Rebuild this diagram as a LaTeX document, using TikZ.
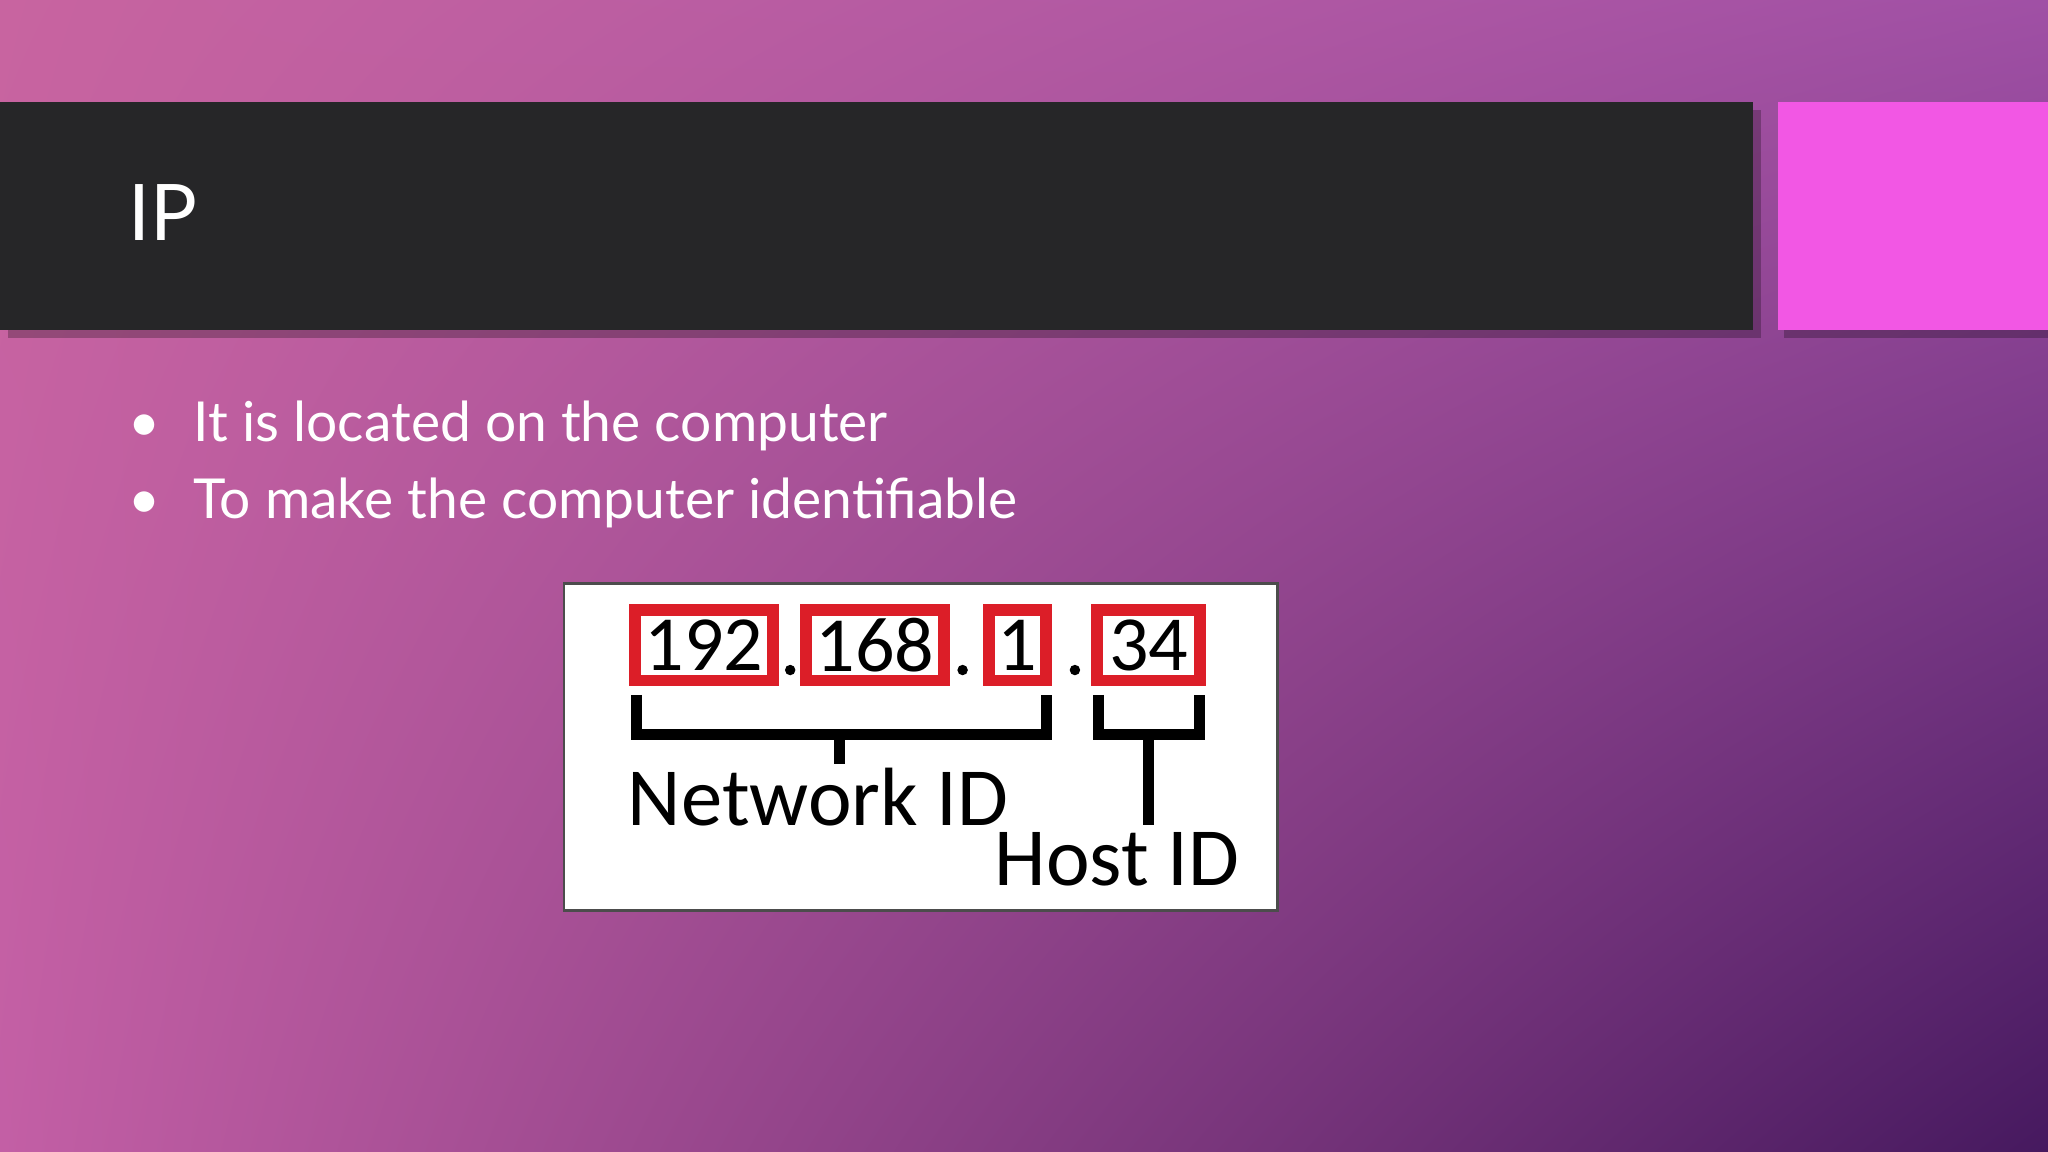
\documentclass[tikz,border=0pt]{standalone}
\usepackage{fontspec}
\usetikzlibrary{shadings}
\setmainfont{Lato}
\newfontfamily\figfont{Carlito}
\definecolor{bgTL}{RGB}{200,100,160}
\definecolor{bgTR}{RGB}{160,80,165}
\definecolor{bgBL}{RGB}{195,95,165}
\definecolor{bgBR}{RGB}{70,25,95}
\definecolor{barc}{RGB}{38,38,40}
\definecolor{pinkc}{RGB}{242,87,228}
\definecolor{redc}{RGB}{220,30,40}
\tikzset{
 numbox/.style={draw=redc,line width=2.6pt,minimum height=0.54cm,inner sep=0pt,font=\figfont\fontsize{17}{17}\selectfont,text=black},
 brk/.style={line width=2.4pt,black},
}
\begin{document}
\begin{tikzpicture}[x=0.01cm,y=-0.01cm]
\useasboundingbox (0,0) rectangle (1568,882);
\shade[upper left=bgTL,upper right=bgTR,lower left=bgBL,lower right=bgBR] (0,0) rectangle (1568,882);
\fill[black,opacity=0.25] (6,84) rectangle (1348,259);
\fill[barc] (0,78) rectangle (1342,253);
\fill[black,opacity=0.25] (1366,84) rectangle (1568,259);
\fill[pinkc] (1361,78) rectangle (1568,253);
\node[anchor=west,text=white,font=\fontsize{17}{17}\selectfont,inner sep=0] (title) at (98,163) {IP};
\node[anchor=west,text=white,font=\fontsize{12}{12}\selectfont,inner sep=0] (b1) at (98,326) {\textbullet\hspace{0.6em}It is located on the computer};
\node[anchor=west,text=white,font=\fontsize{12}{12}\selectfont,inner sep=0] (b2) at (98,385) {\textbullet\hspace{0.6em}To make the computer identifiable};
\node[draw=black!70,line width=0.6pt,fill=white,minimum width=5.46cm,minimum height=2.5cm,inner sep=0] (img) at (705,572) {};
\node[numbox,minimum width=1.06cm] (n1) at (539,494) {192};
\node[numbox,minimum width=1.06cm] (n2) at (670,494) {168};
\node[numbox,minimum width=0.44cm] (n3) at (779,494) {1};
\node[numbox,minimum width=0.79cm] (n4) at (879.5,494) {34};
\fill (605,513) circle (4); \fill (737,513) circle (4); \fill (823,513) circle (4);
\coordinate (s1) at (643,585);
\coordinate (s2) at (879,632);
\draw[brk] (487,532) -- (487,562) -- (801,562) -- (801,532);
\draw[brk] (643,562) -- (s1);
\draw[brk] (841,532) -- (841,562) -- (918,562) -- (918,532);
\draw[brk] (879,562) -- (s2);
\node[anchor=west,inner sep=0,font=\figfont\fontsize{18}{18}\selectfont] (net) at (480,610) {Network ID};
\node[anchor=west,inner sep=0,font=\figfont\fontsize{18}{18}\selectfont] (host) at (761,658) {Host ID};
\end{tikzpicture}
\end{document}
